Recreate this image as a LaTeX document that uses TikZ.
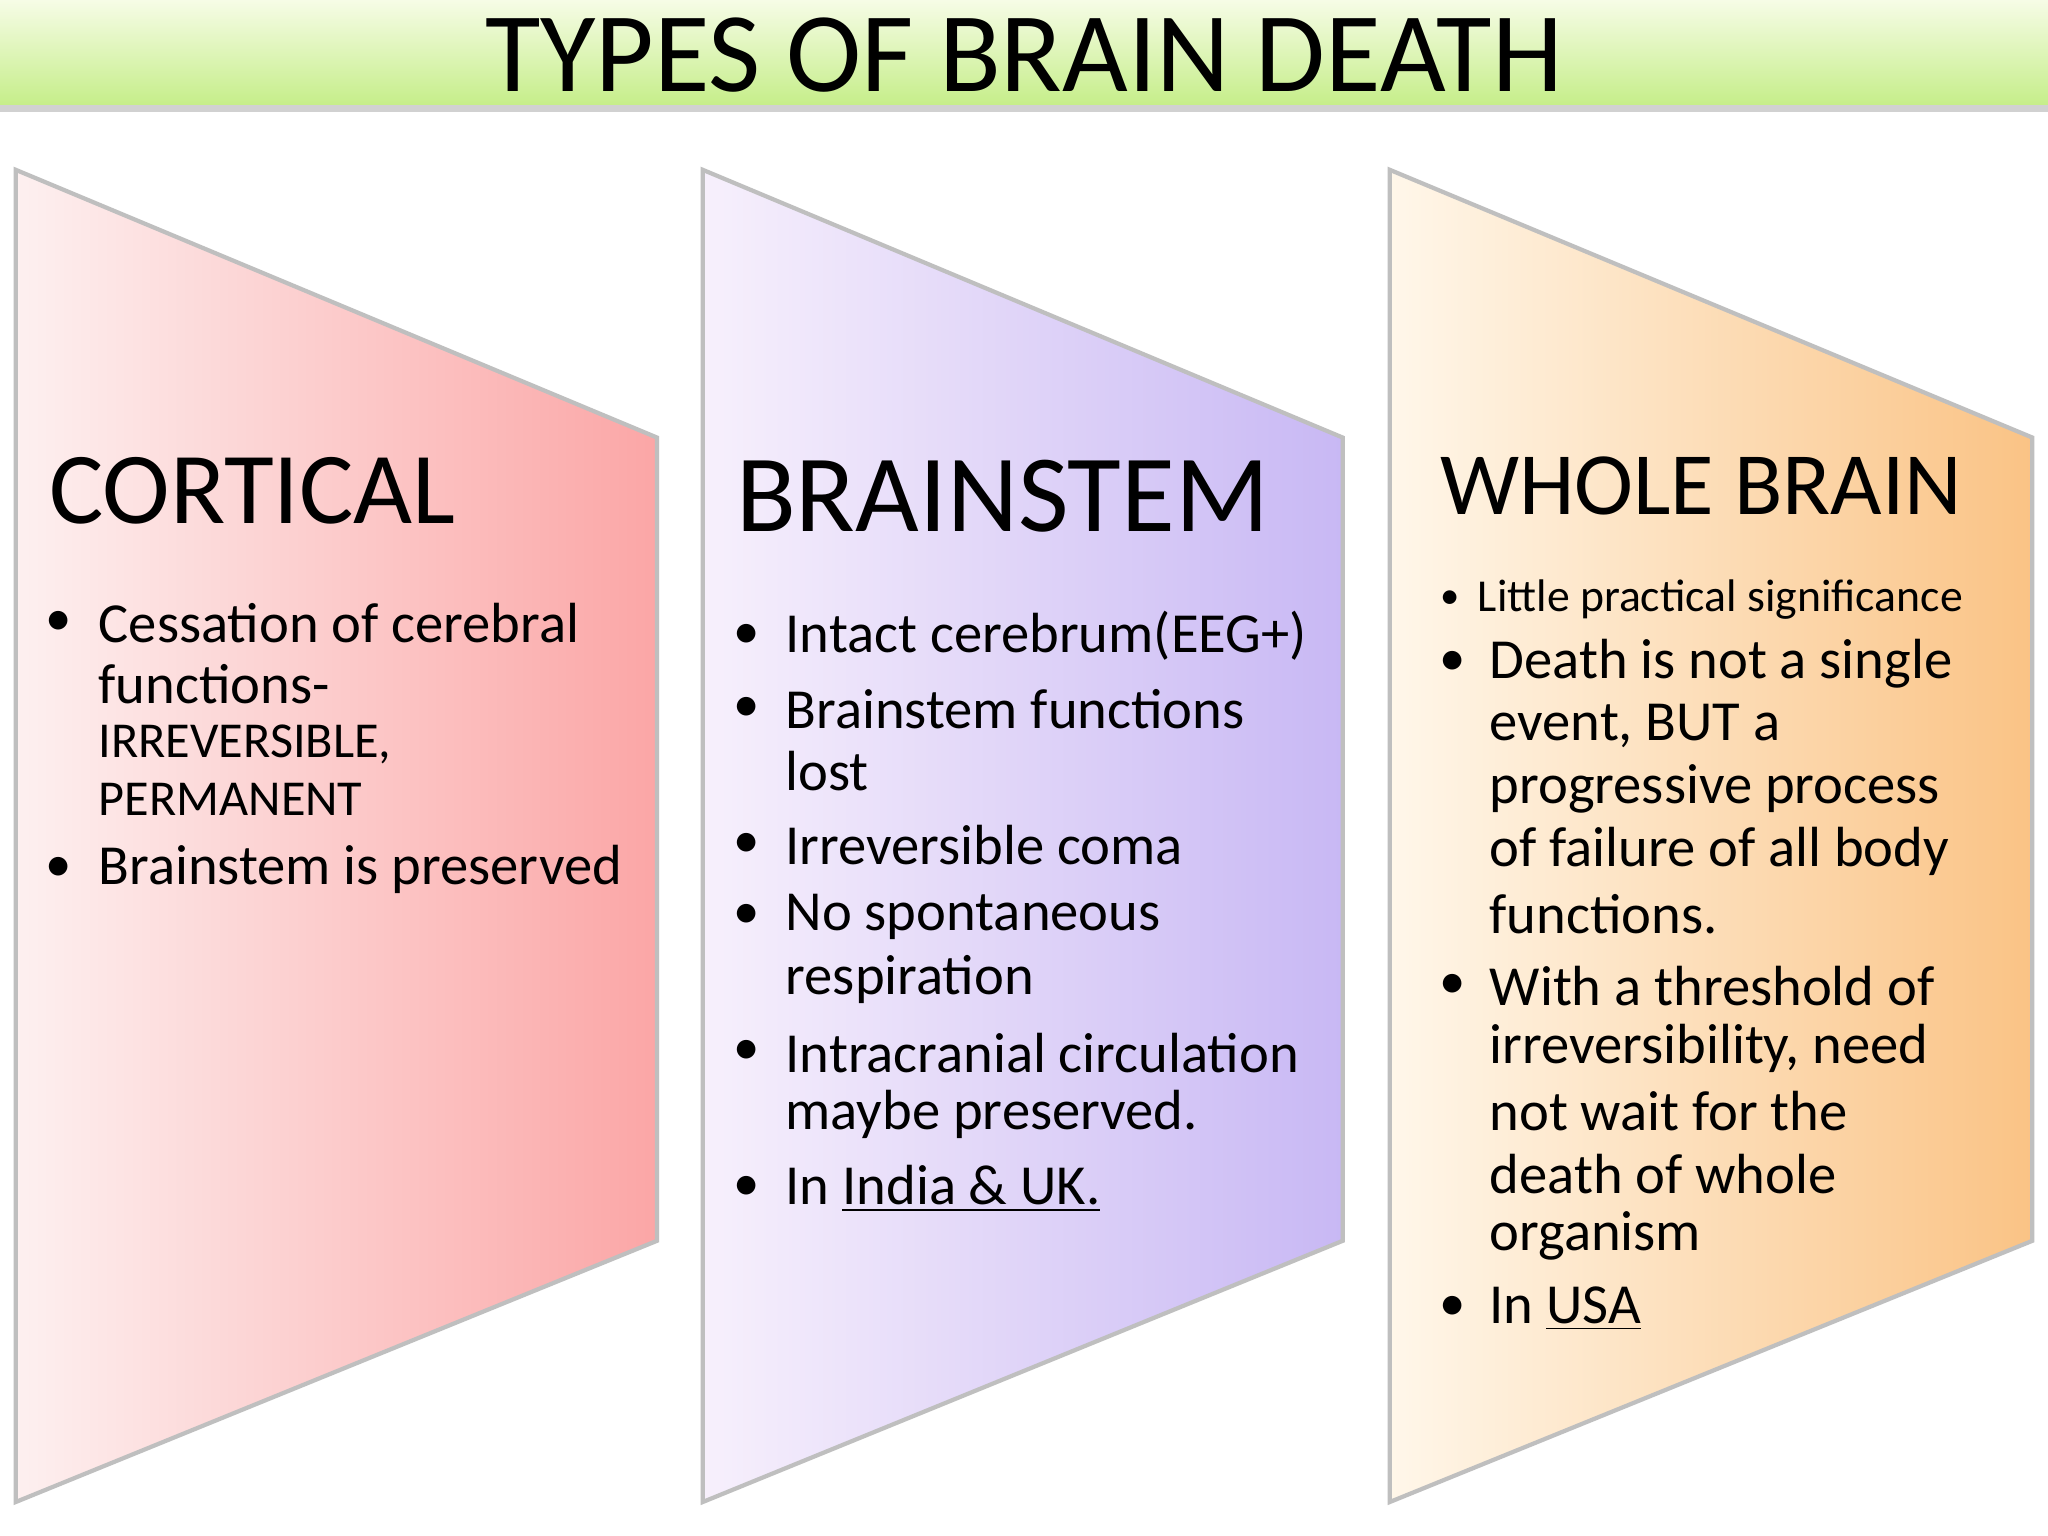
\documentclass[tikz,border=0pt]{standalone}
\usepackage{fontspec}
\setmainfont{Carlito}
\usetikzlibrary{positioning}
\definecolor{titletop}{HTML}{F6FCE6}
\definecolor{titlebot}{HTML}{C6EE8A}
\definecolor{cortL}{HTML}{FDF0F0}
\definecolor{cortR}{HTML}{FBA6A6}
\definecolor{stemL}{HTML}{F7F0FC}
\definecolor{stemR}{HTML}{C8B8F4}
\definecolor{wholeL}{HTML}{FFF7EA}
\definecolor{wholeR}{HTML}{FAC385}
\tikzset{
  panel/.style={draw=black!25, line width=1.2pt},
  heading/.style={anchor=west, inner sep=0pt, font=\fontsize{29}{34}\selectfont},
  item/.style={anchor=west, inner sep=0pt, font=\fontsize{16.1}{19}\selectfont},
  smallitem/.style={anchor=west, inner sep=0pt, font=\fontsize{14.3}{17}\selectfont},
  dot/.style={anchor=center, inner sep=0pt, font=\fontsize{15}{18}\selectfont}
}
\begin{document}
\begin{tikzpicture}[x=0.01306cm, y=-0.01306cm]
    \useasboundingbox (0,0) rectangle (1568,1176);
    \fill[white] (0,0) rectangle (1568,1176);

    % Title band
    \fill[black!18] (0,80) rectangle (1568,86);
    \shade[top color=titletop, bottom color=titlebot] (0,0) rectangle (1568,80);
    \node (title) [inner sep=0pt, font=\fontsize{32.3}{38}\selectfont] at (784,42) {TYPES OF BRAIN DEATH};

    % Panels
    \shade[panel, left color=cortL, right color=cortR] (12,130) -- (503,335) -- (503,950) -- (12,1150) -- cycle;
    \shade[panel, left color=stemL, right color=stemR] (538,130) -- (1028,335) -- (1028,950) -- (538,1150) -- cycle;
    \shade[panel, left color=wholeL, right color=wholeR] (1064,130) -- (1556,335) -- (1556,950) -- (1064,1150) -- cycle;

    % Headings
    \node (cortical) [heading] at (37,376) {CORTICAL};
    \node (brainstem) [heading, font=\fontsize{31.3}{36}\selectfont] at (563,380) {BRAINSTEM};
    \node (whole) [heading, font=\fontsize{25.3}{30}\selectfont] at (1102,372) {WHOLE BRAIN};

    % Cortical
    \foreach \y in {477,666} \node (cd\y) [dot] at (45,\y) {•};
    \foreach \y/\t in {477/Cessation of cerebral, 524/functions-, 666/Brainstem is preserved}
        \node (ct\y) [item] at (75,\y) {\t};
    \foreach \y/\t in {570/{IRREVERSIBLE,}, 612/PERMANENT}
        \node (cs\y) [smallitem] at (75,\y) {\t};

    % Brainstem
    \foreach \y in {487,543,647,702,806,910} \node (bd\y) [dot] at (572,\y) {•};
    \foreach \y/\t in {487/Intact cerebrum(EEG+), 543/Brainstem functions, 590/lost,
        647/Irreversible coma, 702/No spontaneous, 750/respiration,
        806/Intracranial circulation, 853/maybe preserved.,
        910/In \underline{India \& UK.}}
        \node (bt\y) [item] at (601,\y) {\t};

    % Whole brain
    \node (wd459) [dot, font=\fontsize{11}{13}\selectfont] at (1110,459) {•};
    \node (wt459) [smallitem, font=\fontsize{13}{15}\selectfont] at (1131,459) {Little practical significance};
    \foreach \y in {508,755,1002} \node (wd\y) [dot] at (1112,\y) {•};
    \foreach \y/\t in {508/Death is not a single, 556/{event, BUT a}, 604/progressive process,
        652/of failure of all body, 700/functions., 755/With a threshold of,
        803/{irreversibility, need}, 851/not wait for the, 899/death of whole,
        946/organism, 1002/In \underline{USA}}
        \node (wt\y) [item] at (1140,\y) {\t};
\end{tikzpicture}
\end{document}
